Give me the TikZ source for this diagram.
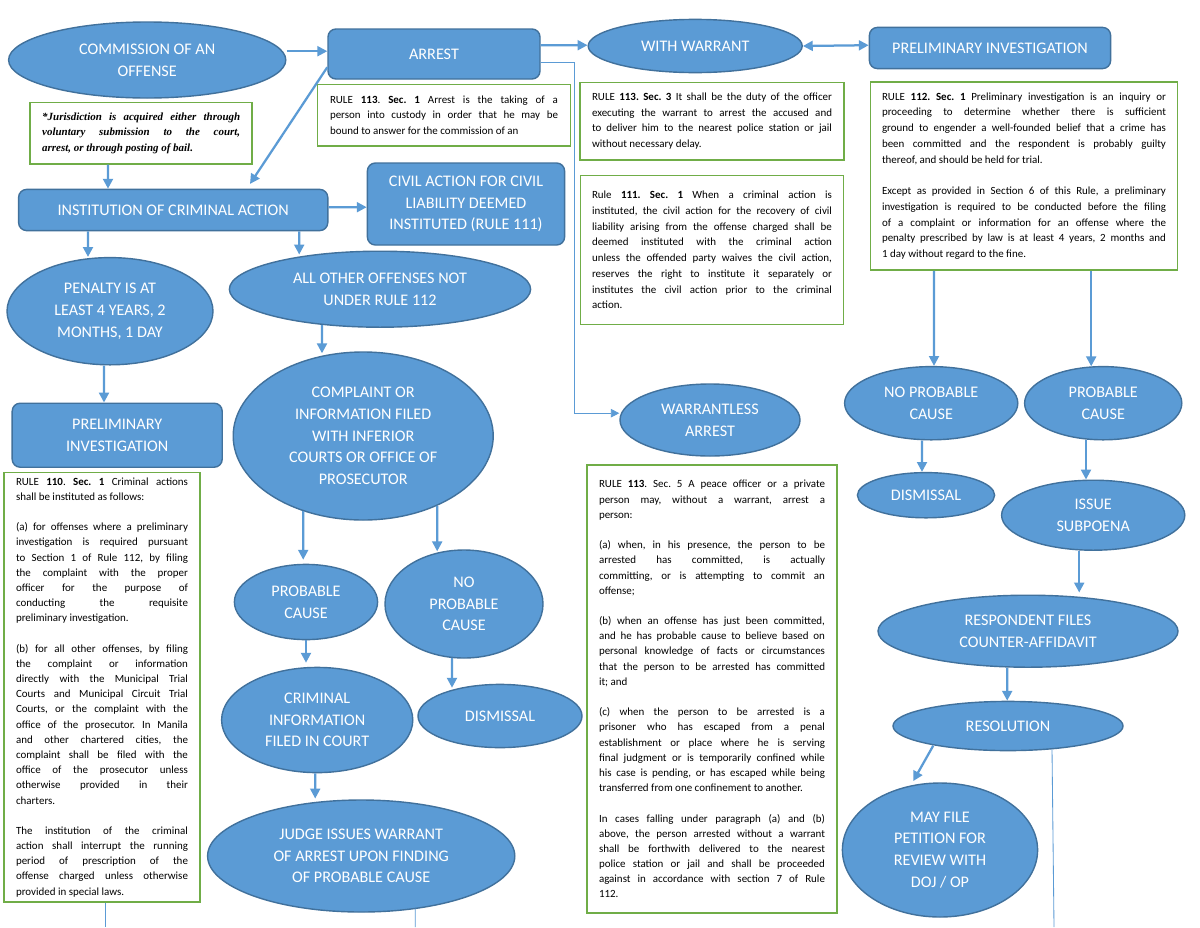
\documentclass[tikz,border=0pt]{standalone}
\usepackage{fontspec}
\setmainfont{Carlito}
\newfontfamily\notefont{Liberation Serif}
\usetikzlibrary{shapes.geometric,arrows.meta,positioning}
\frenchspacing

\definecolor{boxblue}{HTML}{5B9BD5}
\definecolor{edgeblue}{HTML}{41719C}
\definecolor{rulegreen}{HTML}{70AD47}

\begin{document}
\begin{tikzpicture}[
            box/.style={rectangle, rounded corners=0.2cm, draw=edgeblue, line width=1pt, fill=boxblue, text=white, align=center, inner sep=0pt, font=\fontsize{11.5}{15.5}\selectfont},
            oval/.style={ellipse, draw=edgeblue, line width=1pt, fill=boxblue, text=white, align=center, inner sep=0pt, font=\fontsize{11.5}{15.5}\selectfont},
            rulebox/.style={rectangle, draw=rulegreen, line width=1.1pt, fill=white, align=justify, inner sep=0pt, font=\fontsize{7.8}{11.2}\selectfont},
            longrule/.style={rulebox, font=\fontsize{7.8}{10.8}\selectfont},
            arrow/.style={->, >={Triangle[length=7pt,width=7pt]}, draw=boxblue, line width=1.6pt},
            stub/.style={draw=boxblue, line width=0.6pt}
        ]
            \fill[white] (0,0) rectangle (30,-23.175);
            \useasboundingbox (0,0) rectangle (30,-23.175);

            % Top row
            \node[oval, minimum width=6.93cm, minimum height=1.90cm] (offense) at (3.68,-1.50) {COMMISSION OF AN\\OFFENSE};
            \node[box, minimum width=5.30cm, minimum height=1.25cm] (arrest) at (10.85,-1.35) {ARREST};
            \node[oval, minimum width=5.35cm, minimum height=1.33cm] (withwarrant) at (17.38,-1.15) {WITH WARRANT};
            \node[box, minimum width=6.03cm, minimum height=1.03cm] (prelimtop) at (24.75,-1.20) {PRELIMINARY INVESTIGATION};

            \node[rulebox, minimum width=5.55cm, minimum height=1.53cm, text width=4.95cm, font=\notefont\bfseries\itshape\fontsize{7.8}{11}\selectfont] (jurisdiction) at (3.53,-3.33) {*Jurisdiction is acquired either through\linebreak voluntary submission to the court,\linebreak arrest, or through posting of bail.};
            \node[rulebox, minimum width=6.33cm, minimum height=1.53cm, text width=5.7cm] (rulearrest) at (11.10,-2.88) {RULE \textbf{113}. \textbf{Sec. 1} Arrest is the taking of a\linebreak person into custody in order that he may be\linebreak bound to answer for the commission of an\parfillskip=0pt};
            \node[rulebox, minimum width=6.60cm, minimum height=1.93cm, text width=6.0cm] (rulewarrant) at (17.80,-3.03) {RULE \textbf{113. Sec. 3} It shall be the duty of the officer\linebreak executing the warrant to arrest the accused and\linebreak to deliver him to the nearest police station or jail\linebreak without necessary delay.};
            \node[rulebox, minimum width=6.58cm, minimum height=3.73cm, text width=6.0cm] (rulecivil) at (17.80,-6.25) {Rule \textbf{111. Sec. 1} When a criminal action is\linebreak instituted, the civil action for the recovery of civil\linebreak liability arising from the offense charged shall be\linebreak deemed instituted with the criminal action\linebreak unless the offended party waives the civil action,\linebreak reserves the right to institute it separately or\linebreak institutes the civil action prior to the criminal\linebreak action.};
            \node[rulebox, minimum width=7.68cm, minimum height=4.70cm, text width=7.1cm] (ruleprelim) at (25.60,-4.40) {RULE \textbf{112. Sec. 1} Preliminary investigation is an inquiry or\linebreak proceeding to determine whether there is sufficient\linebreak ground to engender a well-founded belief that a crime has\linebreak been committed and the respondent is probably guilty\linebreak thereof, and should be held for trial.\\[11.2pt]
            Except as provided in Section 6 of this Rule, a preliminary\linebreak investigation is required to be conducted before the filing\linebreak of a complaint or information for an offense where the\linebreak penalty prescribed by law is at least 4 years, 2 months and\linebreak 1 day without regard to the fine.};

            % Left and middle column
            \node[box, minimum width=7.73cm, minimum height=1.03cm] (institution) at (4.33,-5.25) {INSTITUTION OF CRIMINAL ACTION};
            \node[box, minimum width=4.93cm, minimum height=2.05cm] (civil) at (11.65,-5.10) {CIVIL ACTION FOR CIVIL\\LIABILITY DEEMED\\INSTITUTED (RULE 111)};
            \node[oval, minimum width=5.15cm, minimum height=2.68cm] (penalty) at (2.75,-7.78) {PENALTY IS AT\\LEAST 4 YEARS, 2\\MONTHS, 1 DAY};
            \node[box, minimum width=5.25cm, minimum height=1.60cm] (prelimleft) at (2.93,-10.88) {PRELIMINARY\\INVESTIGATION};
            \node[longrule, minimum width=4.90cm, minimum height=10.73cm, text width=4.3cm] (rulefiling) at (2.55,-17.18) {RULE \textbf{110}. \textbf{Sec. 1} Criminal actions\linebreak shall be instituted as follows:\\[10.8pt]
            (a) for offenses where a preliminary\linebreak investigation is required pursuant\linebreak to Section 1 of Rule 112, by filing\linebreak the complaint with the proper\linebreak officer for the purpose of\linebreak conducting the requisite\linebreak preliminary investigation.\\[10.8pt]
            (b) for all other offenses, by filing\linebreak the complaint or information\linebreak directly with the Municipal Trial\linebreak Courts and Municipal Circuit Trial\linebreak Courts, or the complaint with the\linebreak office of the prosecutor. In Manila\linebreak and other chartered cities, the\linebreak complaint shall be filed with the\linebreak office of the prosecutor unless\linebreak otherwise provided in their\linebreak charters.\\[10.8pt]
            The institution of the criminal\linebreak action shall interrupt the running\linebreak period of prescription of the\linebreak offense charged unless otherwise\linebreak provided in special laws.};

            \node[oval, minimum width=7.53cm, minimum height=1.90cm] (allother) at (9.50,-7.23) {ALL OTHER OFFENSES NOT\\UNDER RULE 112};
            \node[oval, minimum width=6.50cm, minimum height=4.20cm] (complaint) at (9.08,-10.90) {COMPLAINT OR\\INFORMATION FILED\\WITH INFERIOR\\COURTS OR OFFICE OF\\PROSECUTOR};
            \node[oval, minimum width=3.58cm, minimum height=1.88cm] (probable) at (7.65,-15.05) {PROBABLE\\CAUSE};
            \node[oval, minimum width=3.95cm, minimum height=2.70cm] (noprobable) at (11.60,-15.10) {NO\\PROBABLE\\CAUSE};
            \node[oval, minimum width=4.78cm, minimum height=2.63cm] (criminal) at (7.93,-18.00) {CRIMINAL\\INFORMATION\\FILED IN COURT};
            \node[oval, minimum width=4.10cm, minimum height=1.58cm] (dismissal) at (12.50,-17.90) {DISMISSAL};
            \node[oval, minimum width=7.68cm, minimum height=2.80cm] (judge) at (9.03,-21.40) {JUDGE ISSUES WARRANT\\OF ARREST UPON FINDING\\OF PROBABLE CAUSE};

            \node[oval, minimum width=4.50cm, minimum height=1.80cm] (warrantless) at (17.75,-10.50) {WARRANTLESS\\ARREST};
            \node[longrule, minimum width=6.25cm, minimum height=11.20cm, text width=5.65cm] (rulewarrantless) at (17.80,-17.23) {RULE \textbf{113}. Sec. 5 A peace officer or a private\linebreak person may, without a warrant, arrest a\linebreak person:\\[10.8pt]
            (a) when, in his presence, the person to be\linebreak arrested has committed, is actually\linebreak committing, or is attempting to commit an\linebreak offense;\\[10.8pt]
            (b) when an offense has just been committed,\linebreak and he has probable cause to believe based on\linebreak personal knowledge of facts or circumstances\linebreak that the person to be arrested has committed\linebreak it; and\\[10.8pt]
            (c) when the person to be arrested is a\linebreak prisoner who has escaped from a penal\linebreak establishment or place where he is serving\linebreak final judgment or is temporarily confined while\linebreak his case is pending, or has escaped while being\linebreak transferred from one confinement to another.\\[10.8pt]
            In cases falling under paragraph (a) and (b)\linebreak above, the person arrested without a warrant\linebreak shall be forthwith delivered to the nearest\linebreak police station or jail and shall be proceeded\linebreak against in accordance with section 7 of Rule\linebreak 112.};

            % Right column
            \node[oval, minimum width=4.33cm, minimum height=1.83cm] (noprobright) at (23.28,-10.08) {NO PROBABLE\\CAUSE};
            \node[oval, minimum width=3.93cm, minimum height=1.83cm] (probright) at (27.58,-10.08) {PROBABLE\\CAUSE};
            \node[oval, minimum width=3.43cm, minimum height=1.13cm] (dismissright) at (23.15,-12.38) {DISMISSAL};
            \node[oval, minimum width=4.58cm, minimum height=1.75cm] (subpoena) at (27.33,-12.88) {ISSUE\\SUBPOENA};
            \node[oval, minimum width=7.50cm, minimum height=1.80cm] (respondent) at (25.70,-15.78) {RESPONDENT FILES\\COUNTER-AFFIDAVIT};
            \node[oval, minimum width=5.75cm, minimum height=1.23cm] (resolution) at (25.20,-18.15) {RESOLUTION};
            \node[oval, minimum width=4.88cm, minimum height=3.35cm] (mayfile) at (23.50,-21.25) {MAY FILE\\PETITION FOR\\REVIEW WITH\\DOJ / OP};

            \coordinate (filingend) at (2.63,-23.175);
            \coordinate (judgeend) at (10.38,-23.175);
            \coordinate (resolutionend) at (26.35,-23.175);

            \draw[arrow] ([yshift=0.22cm]offense.east) -- ([yshift=0.07cm]arrest.west);
            \draw[arrow] ([yshift=0.22cm]arrest.east) -- ([yshift=0.02cm]withwarrant.west);
            \draw[arrow, <->] (withwarrant.east) -- ([yshift=0.07cm]prelimtop.west);
            \draw[stub, ->, >={Triangle[length=6pt,width=6pt]}] ([yshift=-0.2cm]arrest.east) -- ++(0.85,0) |- ([yshift=0.17cm]warrantless.west);
            \draw[arrow] ([xshift=-0.83cm]jurisdiction.south) -- ([xshift=-1.63cm]institution.north);
            \draw[arrow] ([yshift=-0.33cm]arrest.west) -- ([xshift=1.92cm,yshift=0.12cm]institution.north);
            \draw[arrow] ([yshift=0.07cm]institution.east) -- ([yshift=-0.08cm]civil.west);
            \draw[arrow] ([xshift=-2.13cm]institution.south) -- ([xshift=-0.55cm]penalty.north);
            \draw[arrow] ([xshift=3.15cm]institution.south) -- ([xshift=-2.02cm,yshift=-0.1cm]allother.north);
            \draw[arrow] ([xshift=-0.15cm]penalty.south) -- ([xshift=-0.33cm]prelimleft.north);
            \draw[arrow] ([xshift=-1.45cm,yshift=0.07cm]allother.south) -- ([xshift=-1.03cm,yshift=-0.05cm]complaint.north);
            \draw[arrow] ([xshift=-1.5cm,yshift=0.24cm]complaint.south) -- ([xshift=-0.07cm,yshift=0.1cm]probable.north);
            \draw[arrow] ([xshift=1.85cm,yshift=0.37cm]complaint.south) -- ([xshift=-0.67cm,yshift=-0.05cm]noprobable.north);
            \draw[arrow] (probable.south) -- ([xshift=-0.28cm,yshift=0.1cm]criminal.north);
            \draw[arrow] ([xshift=-0.3cm,yshift=0.02cm]noprobable.south) -- ([xshift=-1.2cm,yshift=-0.1cm]dismissal.north);
            \draw[arrow] ([xshift=-0.05cm]criminal.south) -- ([xshift=-1.15cm,yshift=0.02cm]judge.north);
            \draw[arrow] ([xshift=-2.25cm]ruleprelim.south) -- ([xshift=0.07cm]noprobright.north);
            \draw[arrow] ([xshift=1.68cm]ruleprelim.south) -- ([xshift=-0.3cm,yshift=-0.01cm]probright.north);
            \draw[arrow] ([xshift=-0.23cm]noprobright.south) -- ([xshift=-0.1cm]dismissright.north);
            \draw[arrow] ([xshift=-0.43cm,yshift=0.02cm]probright.south) -- ([xshift=-0.18cm]subpoena.north);
            \draw[arrow] ([xshift=-0.35cm]subpoena.south) -- ([xshift=1.28cm,yshift=0.05cm]respondent.north);
            \draw[arrow] ([xshift=-0.52cm]respondent.south) -- ([xshift=-0.02cm]resolution.north);
            \draw[arrow] ([xshift=-1.87cm,yshift=0.14cm]resolution.south) -- ([xshift=-0.67cm,yshift=0.03cm]mayfile.north);

            % Loose ends at the bottom edge
            \draw[stub] ([xshift=0.08cm]rulefiling.south) -- (filingend);
            \draw[stub] ([xshift=1.35cm,yshift=0.1cm]judge.south) -- (judgeend);
            \draw[stub] ([xshift=1.1cm,yshift=0.05cm]resolution.south) -- (resolutionend);
        \end{tikzpicture}
\end{document}
